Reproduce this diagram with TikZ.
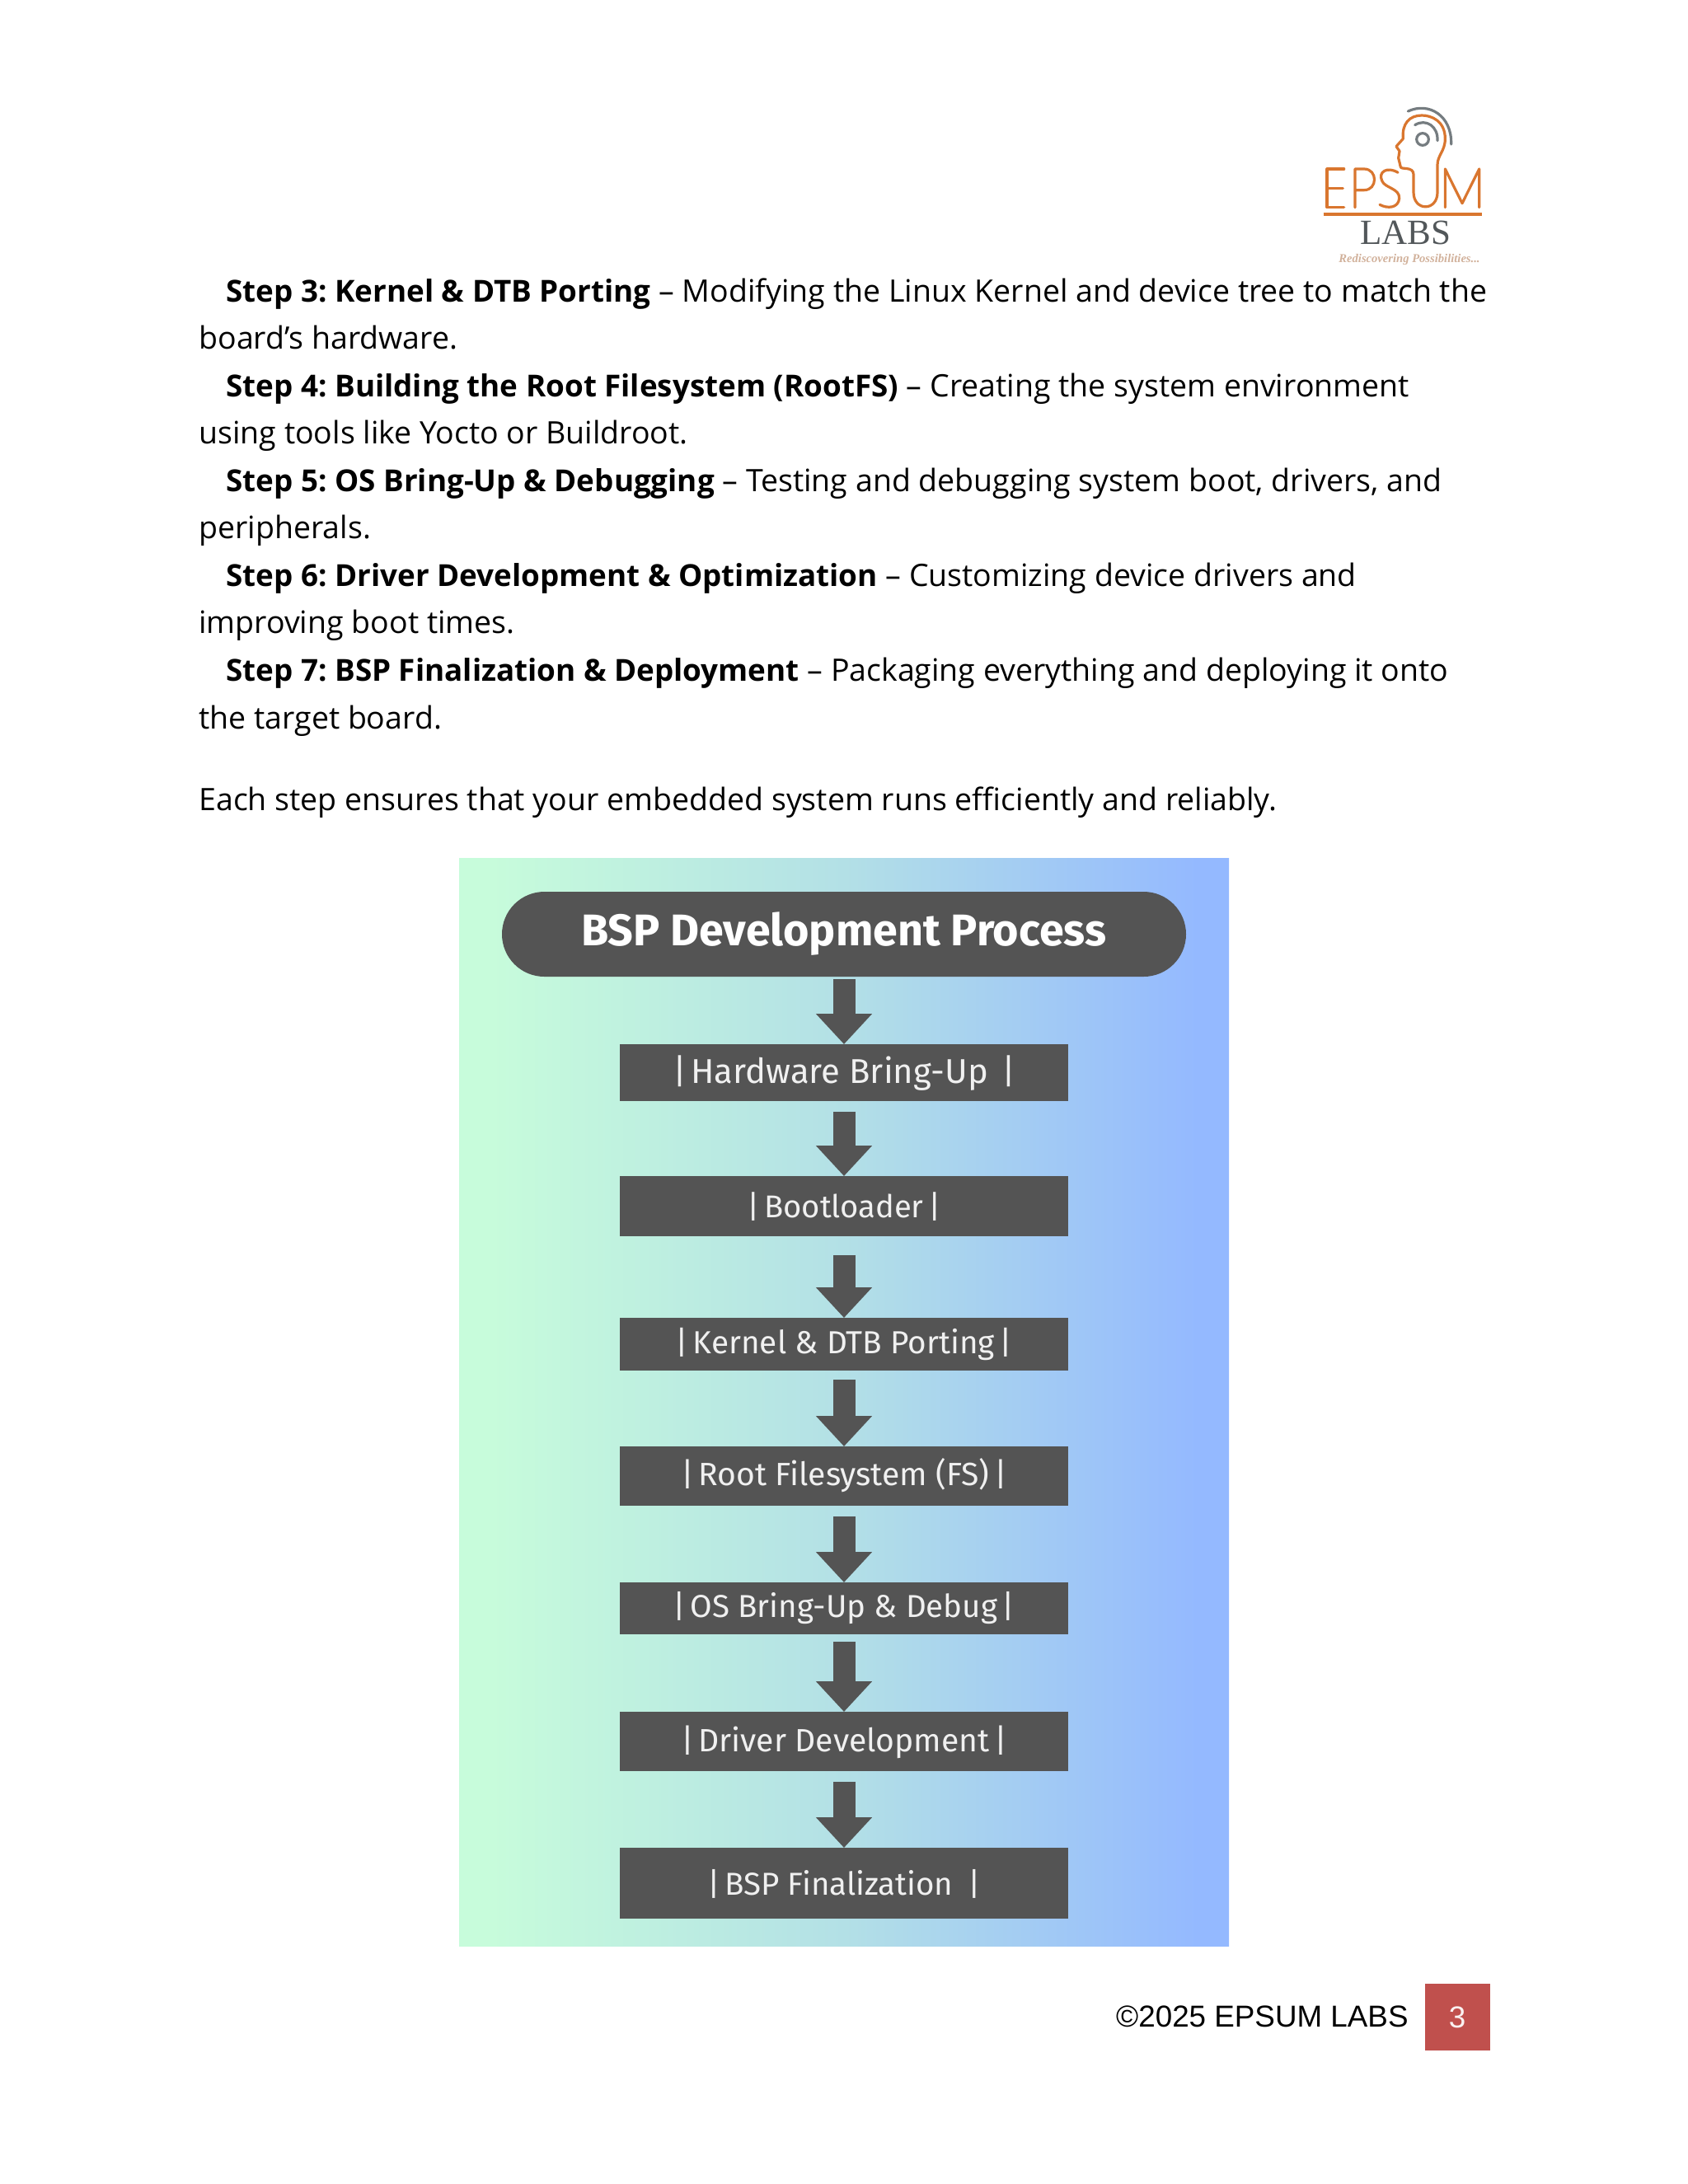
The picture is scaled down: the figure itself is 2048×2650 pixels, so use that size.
\documentclass[tikz,border=0pt]{standalone}
\usepackage{fontspec}
\setmainfont{Open Sans}
\newfontfamily\boxfont{Fira Sans}
\newfontfamily\footfont{Liberation Sans}
\newfontfamily\logofont{Liberation Serif}
\usetikzlibrary{arrows.meta,shapes.misc}
\definecolor{boxgray}{HTML}{545454}
\definecolor{gradL}{HTML}{C7FCDB}
\definecolor{gradM}{HTML}{B3E0E6}
\definecolor{gradR}{HTML}{94B9FF}
\definecolor{logoorange}{HTML}{D9762F}
\definecolor{logogray}{HTML}{757C80}
\definecolor{footred}{HTML}{C0504D}
\pgfdeclarehorizontalshading{bgshade}{100bp}{
  color(0bp)=(gradL); color(27bp)=(gradL); color(50bp)=(gradM); color(73bp)=(gradR); color(100bp)=(gradR)}
\tikzset{
  bodyline/.style={anchor=base west,inner sep=0pt,font=\fontsize{18.75}{24}\selectfont,text=black},
  procbox/.style={fill=boxgray,inner sep=0pt,minimum width=272pt,text=white!94!black,anchor=north},
  flow/.style={draw=boxgray,line width=13.5pt,-{Triangle[width=33pt,length=18.5pt]}},
  logoline/.style={draw=logoorange,line width=1.6pt,line cap=round,line join=round},
  logoarc/.style={draw=logogray,line width=1.6pt,line cap=round}
}
\newcommand{\bfs}[1]{\boxfont\fontsize{#1}{24}\selectfont}
\newcommand{\stepb}[1]{{\fontsize{18.4}{24}\selectfont\bfseries #1}}
\newcommand{\bargap}{\hspace{2.8pt}}
\begin{document}
\frenchspacing
\begin{tikzpicture}[x=0.5pt,y=-0.5pt]
\useasboundingbox (0,0) rectangle (2048,2650);
% body text
\node[bodyline] (l1) at (274,366) {\stepb{Step 3: Kernel \& DTB Porting} – Modifying the Linux Kernel and device tree to match the};
\node[bodyline] (l2) at (241,423) {board’s hardware.};
\node[bodyline] (l3) at (274,481) {\stepb{Step 4: Building the Root Filesystem (RootFS)} – Creating the system environment};
\node[bodyline] (l4) at (241,538) {using tools like Yocto or Buildroot.};
\node[bodyline] (l5) at (274,596) {\stepb{Step 5: OS Bring-Up \& Debugging} – Testing and debugging system boot, drivers, and};
\node[bodyline] (l6) at (241,653) {peripherals.};
\node[bodyline] (l7) at (274,711) {\stepb{Step 6: Driver Development \& Optimization} – Customizing device drivers and};
\node[bodyline] (l8) at (241,768) {improving boot times.};
\node[bodyline] (l9) at (274,826) {\stepb{Step 7: BSP Finalization \& Deployment} – Packaging everything and deploying it onto};
\node[bodyline] (l10) at (241,884) {the target board.};
\node[bodyline] (l11) at (241,983) {Each step ensures that your embedded system runs efficiently and reliably.};
% gradient panel
\path[shading=bgshade] (557,1041) rectangle (1491,2361);
% title
\node[rounded rectangle,fill=boxgray,minimum width=415pt,minimum height=51.5pt,inner sep=0pt,text=white,font=\boxfont\bfseries\fontsize{26.9}{30}\selectfont] (title) at (1024,1133.5) {BSP Development Process};
% boxes
\node[procbox,minimum height=34.5pt,font=\bfs{20.9}] (b1) at (1024,1267) {|\bargap Hardware Bring-Up\hspace{8pt}|};
\node[procbox,minimum height=36.5pt,font=\bfs{19.1}] (b2) at (1024,1427) {|\bargap Bootloader\bargap|};
\node[procbox,minimum height=32pt,font=\bfs{19.35}] (b3) at (1024,1599) {|\bargap Kernel \& DTB Porting\bargap|};
\node[procbox,minimum height=36pt,font=\bfs{19.55},text depth=6pt,text height=17pt] (b4) at (1024,1755) {|\bargap Root Filesystem (FS)\bargap|};
\node[procbox,minimum height=31.5pt,font=\bfs{19.25},text depth=6pt,text height=17pt] (b5) at (1024,1920) {|\bargap OS Bring-Up \& Debug\bargap|};
\node[procbox,minimum height=36pt,font=\bfs{19.55}] (b6) at (1024,2077) {|\bargap Driver Development\bargap|};
\node[procbox,minimum height=43pt,font=\bfs{19.25}] (b7) at (1024,2242) {|\bargap BSP Finalization\hspace{9pt}|};
% arrows
\draw[flow,shorten <=1.5pt] (title.south) -- (b1.north);
\draw[flow,shorten <=6pt] (b1.south) -- (b2.north);
\draw[flow,shorten <=11pt] (b2.south) -- (b3.north);
\draw[flow,shorten <=5.2pt] (b3.south) -- (b4.north);
\draw[flow,shorten <=6pt] (b4.south) -- (b5.north);
\draw[flow,shorten <=4.3pt] (b5.south) -- (b6.north);
\draw[flow,shorten <=6pt] (b6.south) -- (b7.north);
% footer
\node[anchor=base east,inner sep=0pt,font=\footfont\fontsize{18.4}{24}\selectfont] (foot) at (1709,2459) {©2025 EPSUM LABS};
\node[fill=footred,minimum width=39.5pt,minimum height=40.5pt,inner sep=0pt,text=white!92!footred,font=\footfont\fontsize{18.4}{24}\selectfont] (pg) at (1768,2447.5) {3};
% logo
\begin{scope}[shift={(1540,100)},x=0.16667pt,y=-0.16667pt]
\draw[logoline] (272,315) -- (210,315) -- (210,455) -- (272,455);
\draw[logoline] (210,385) -- (268,385);
\draw[logoline] (312,455) -- (312,315) -- (345,315) .. controls (395,315) and (395,392) .. (345,392) -- (312,392);
\draw[logoline] (468,328) .. controls (430,305) and (395,325) .. (410,358) .. controls (420,385) and (475,385) .. (473,422) .. controls (470,458) and (430,460) .. (402,445);
\draw[logoline] (478,308) .. controls (480,318) and (525,305) .. (525,335) -- (525,400)
  .. controls (525,470) and (612,470) .. (612,400) -- (612,300)
  .. controls (612,265) and (640,250) .. (640,205)
  .. controls (640,140) and (590,120) .. (555,120)
  .. controls (510,120) and (482,150) .. (487,205)
  -- (462,233) -- (474,250) -- (470,275) -- (478,308);
\draw[logoline] (640,455) -- (640,315) -- (702,440) -- (764,315) -- (764,455);
\draw[logoline,line width=2pt,line cap=butt] (197,480) -- (775,480);
\draw[logoarc] (505,105) .. controls (580,70) and (665,120) .. (662,225);
\draw[logoarc] (530,155) .. controls (570,130) and (615,160) .. (612,212);
\draw[logoarc] (558,207) circle[radius=22];
\node[inner sep=0pt,text=logogray!70!black,font=\logofont\fontsize{21.5}{26}\selectfont] (labs) at (495,548) {LABS};
\node[inner sep=0pt,text=black!30!logoorange!45!white,font=\logofont\itshape\bfseries\fontsize{7.3}{10}\selectfont] (tag) at (510,645) {Rediscovering Possibilities...};
\end{scope}
\end{tikzpicture}
\end{document}
